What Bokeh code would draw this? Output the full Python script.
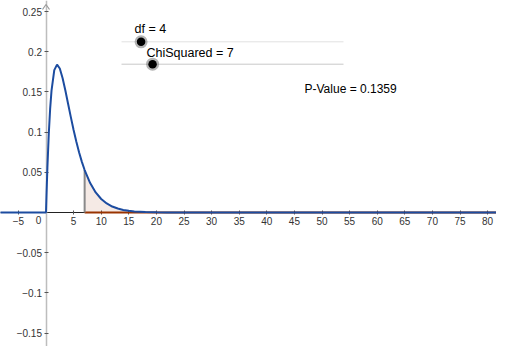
from bokeh.plotting import figure
from bokeh.models import Range1d, FixedTicker
from bokeh.core.properties import value
from bokeh.embed import file_html
from bokeh.resources import INLINE

# ---- data ----
# chi-squared density curve (df = 4)
curve_x = [-9, 0, 0.1, 0.25, 0.5, 0.75, 1, 1.5, 2, 2.5, 3, 3.5, 4, 4.5, 5, 5.5, 6, 6.5,
           7, 8, 9, 10, 11, 12, 13, 14, 15, 16, 18, 20, 22, 25, 90]
curve_y = [0, 0, 0.0238, 0.0552, 0.0974, 0.1289, 0.1516, 0.1771, 0.1839, 0.1791, 0.1673,
           0.1520, 0.1353, 0.1186, 0.1026, 0.0879, 0.0747, 0.0630, 0.0528, 0.0366, 0.0250,
           0.0168, 0.0112, 0.0074, 0.0049, 0.0032, 0.0021, 0.0013, 0.0006, 0.0002, 0.0001, 0, 0]

df_value = 4
df_min, df_max = 1, 35
chi_value = 7
chi_min, chi_max = 0, 50
p_value = 0.1359

x_ticks = [-5, 5, 10, 15, 20, 25, 30, 35, 40, 45, 50, 55, 60, 65, 70, 75, 80]
x_labels = ["\u22125", "5", "10", "15", "20", "25", "30", "35", "40", "45", "50",
            "55", "60", "65", "70", "75", "80"]
y_ticks = [-0.15, -0.1, -0.05, 0.05, 0.1, 0.15, 0.2, 0.25]
y_labels = ["\u22120.15", "\u22120.1", "\u22120.05", "0.05", "0.1", "0.15", "0.2", "0.25"]

# ---- layout / calibration (picture pixels) ----
W, H, M = 496, 346, 0
X0_PX, PX_PER_X = 45.5, 5.52
Y0_PX, PX_PER_Y = 212.0, 804.0
x_start = (M - X0_PX) / PX_PER_X
x_end = (M + W - X0_PX) / PX_PER_X
y_end = (Y0_PX - M) / PX_PER_Y
y_start = (Y0_PX - (M + H)) / PX_PER_Y


def px_x(px):
    return x_start + (px - M) / W * (x_end - x_start)


def px_y(py):
    return y_end - (py - M) / H * (y_end - y_start)


FONT = value("Liberation Sans")

p = figure(width=W, height=H, output_backend="svg", toolbar_location=None,
           x_range=Range1d(x_start, x_end), y_range=Range1d(y_start, y_end),
           min_border=0, background_fill_color="white", border_fill_color="white")
p.outline_line_color = None
p.grid.visible = False

for ax in (p.xaxis[0], p.yaxis[0]):
    ax.fixed_location = 0
    ax.level = "underlay"
    ax.minor_tick_line_color = None
    ax.major_tick_in = 2
    ax.major_tick_out = 2
    ax.major_label_standoff = 2
    ax.major_label_text_font = "Liberation Sans"
    ax.major_label_text_font_size = "10px"
    ax.major_label_text_color = "#333333"
    ax.major_tick_line_color = "#555555"

p.xaxis.ticker = FixedTicker(ticks=x_ticks)
p.xaxis.major_label_overrides = dict(zip(x_ticks, x_labels))
p.xaxis.axis_line_color = "#222222"
p.xaxis.axis_line_width = 1
p.yaxis.ticker = FixedTicker(ticks=y_ticks)
p.yaxis.major_label_overrides = dict(zip(y_ticks, y_labels))
p.yaxis.axis_line_color = "#bdbdbd"
p.yaxis.axis_line_width = 1.5

# y-axis arrow head
p.line([px_x(X0_PX - 3.5), px_x(X0_PX), px_x(X0_PX + 3.5)], [px_y(9), px_y(4), px_y(9)],
       line_color="#9a9a9a", line_width=1.2)

# origin label
p.text(x=[px_x(38)], y=[px_y(219)], text=["0"], text_font=FONT, text_font_size="10px",
       text_color="#333333", text_align="center", text_baseline="middle")

# shaded tail region
reg_x = [x for x in curve_x if x >= chi_value]
reg_y = [y for x, y in zip(curve_x, curve_y) if x >= chi_value]
reg_x = reg_x + [reg_x[-1], chi_value]
reg_y = reg_y + [0, 0]
p.patch(reg_x, reg_y, fill_color="#993300", fill_alpha=0.1, line_color=None)
p.line([chi_value, curve_x[-1]], [0, 0], line_color="#993300", line_width=2)
chi_y = curve_y[curve_x.index(chi_value)]
p.line([chi_value, chi_value], [0, chi_y], line_color="#8a8a8a", line_width=2)

# density curve
p.line(curve_x, curve_y, line_color="#1c4ca0", line_width=2)

# sliders
SL_LEFT, SL_RIGHT = 121, 343
sliders = [
    (f"df = {df_value}", df_value, df_min, df_max, 41.3, 134, 28, "#e2e2e2"),
    (f"ChiSquared = {chi_value}", chi_value, chi_min, chi_max, 63.7, 146, 52, "#c8c8c8"),
]
for label, val, vmin, vmax, ly, tx, ty, lc in sliders:
    p.line([px_x(SL_LEFT), px_x(SL_RIGHT)], [px_y(ly), px_y(ly)], line_color=lc, line_width=1)
    kx = SL_LEFT + (val - vmin) / (vmax - vmin) * (SL_RIGHT - SL_LEFT)
    p.scatter([px_x(kx)], [px_y(ly)], size=13, fill_color="#777777", fill_alpha=0.55,
              line_color=None)
    p.scatter([px_x(kx)], [px_y(ly)], size=8.5, fill_color="#000000", line_color=None)
    p.text(x=[px_x(tx)], y=[px_y(ty)], text=[label], text_font=FONT, text_font_size="12.5px",
           text_color="#000000", text_align="left", text_baseline="middle")

p.text(x=[px_x(304)], y=[px_y(88)], text=[f"P-Value = {p_value}"], text_font=FONT,
       text_font_size="12px", text_color="#000000", text_align="left", text_baseline="middle")

open("out.html", "w").write(file_html(p, INLINE))
